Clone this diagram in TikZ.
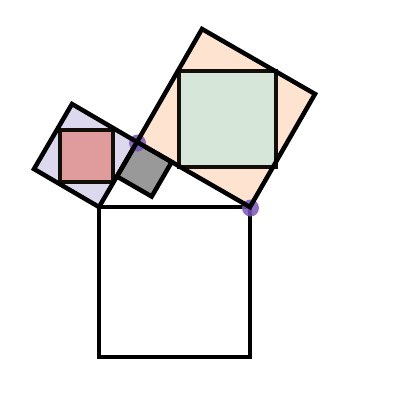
\documentclass[tikz,border=0pt]{standalone}
\usepackage{tikz}
\usetikzlibrary{calc}
\definecolor{lavender}{HTML}{DCD8EE}
\definecolor{peach}{HTML}{FDE3D0}
\definecolor{rose}{HTML}{E09C9C}
\definecolor{sage}{HTML}{D6E6D9}
\definecolor{stone}{HTML}{999999}
\definecolor{dotpurple}{HTML}{7A55B8}
\definecolor{ink}{HTML}{120F0A}

\begin{document}
\begin{tikzpicture}[x=1pt,y=-1pt,line width=4.5pt]
            \useasboundingbox(0,0) rectangle (400,400);
            \coordinate (A) at (99,207);
            \coordinate (B) at (250,207);
            \coordinate (C) at (137,142);

            % square on the hypotenuse
            \draw(A) rectangle ($(B)+(0,150)$);

            % squares on the legs
            \fill[lavender](A)--(C)--($(C)+(-65,-38)$)--($(A)+(-65,-38)$)--cycle;
            \fill[peach](C)--(B)--($(B)+(65,-113)$)--($(C)+(65,-113)$)--cycle;

            \filldraw[fill=rose,draw=ink](60,130) rectangle (113,182);
            \filldraw[fill=sage,draw=ink](179,71) rectangle (276,167);

            \filldraw[fill=stone](C)--($(C)+(34.7,20)$)--($(C)+(14.7,54.5)$)--($(C)+(-20,34.5)$)--cycle;

            \foreach \p in{C,B}{
                \fill[dotpurple,opacity=.85]($(\p)+(0.5,1)$) circle (8.5pt);
            }

            \draw(A)--(C)--($(C)+(-65,-38)$)--($(A)+(-65,-38)$)--cycle;
            \draw(C)--(B)--($(B)+(65,-113)$)--($(C)+(65,-113)$)--cycle;

        \end{tikzpicture}
\end{document}
